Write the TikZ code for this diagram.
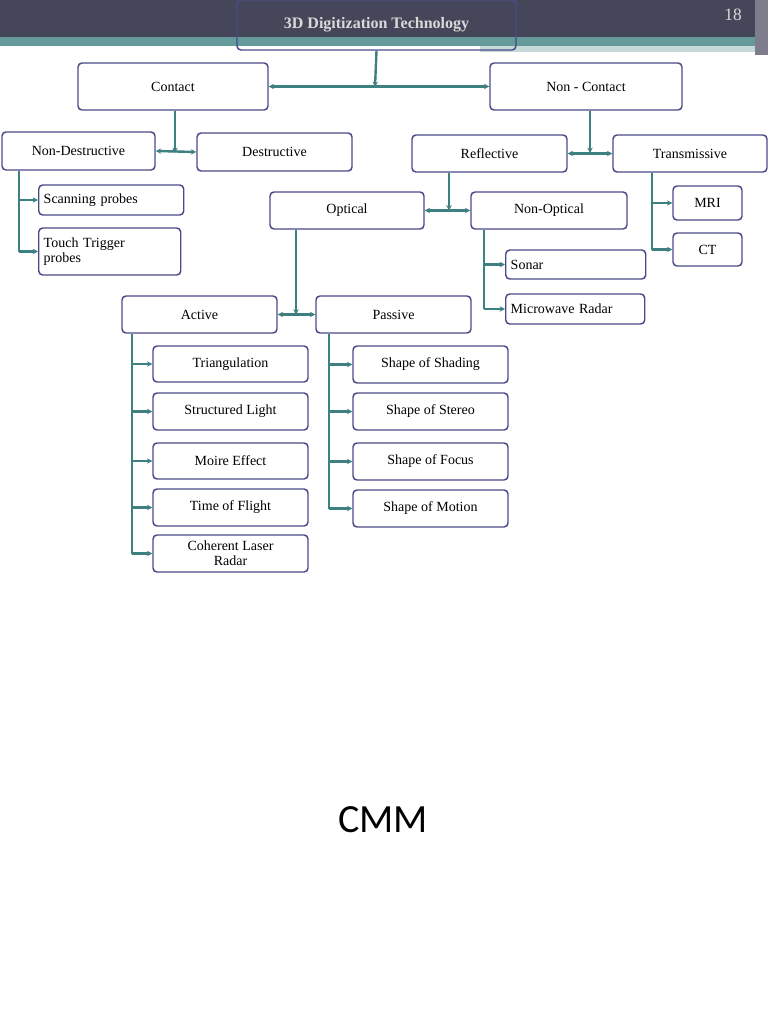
\documentclass[tikz,border=0pt]{standalone}
\usepackage{fontspec}
\setmainfont{Liberation Serif}
\newfontfamily\cmmfont{Carlito}
\usetikzlibrary{arrows.meta}
\definecolor{ln}{HTML}{3E8080}
\definecolor{bd}{HTML}{4A4A88}
\definecolor{hd}{HTML}{46465A}
\newcommand{\bx}[6]{\node[box,minimum width={(#3-#2)*0.75pt},minimum height={(#5-#4)*0.75pt}] (#1) at ({(#2+#3)/2},{(#4+#5)/2}) {#6};}
\begin{document}
\begin{tikzpicture}[x=0.75pt,y=-0.75pt,
 box/.style={draw=bd,line width=1.1pt,rounded corners=3pt,fill=white,inner sep=1pt,font=\fontsize{10.5}{11.5}\selectfont,align=center,text=black},
 cn/.style={draw=ln,line width=1.8pt},
 ar/.style={draw=ln,line width=1.8pt,-{Stealth[length=4pt,width=4pt]}},
 ba/.style={draw=ln,line width=1.8pt,{Stealth[length=4pt,width=4pt]}-{Stealth[length=4pt,width=4pt]}}]
\useasboundingbox (0,0) rectangle (768,1024);
\fill[hd] (0,0) rectangle (768,37);
\fill[ln!80] (0,37) rectangle (768,46);
\fill[ln!30] (310,46) rectangle (768,52);
\fill[white] (310,46) rectangle (480,52);
\fill[hd!70] (755,0) rectangle (768,55);
\node[text=white!85!black,font=\fontsize{13}{13}\selectfont] (num) at (733,15) {18};
\node[box,fill=none,minimum width={279*0.75pt},minimum height={50*0.75pt},font=\fontsize{12}{13}\selectfont\bfseries,text=white!85!black] (t) at (376.5,25) {3D Digitization Technology};
\bx{c}{78}{268}{63}{110}{Contact}
\bx{nc}{490}{682}{63}{110}{Non - Contact}
\bx{nd}{2}{155}{132}{170}{Non-Destructive}
\bx{d}{197}{352}{133}{171}{Destructive}
\bx{r}{412}{567}{135}{172}{Reflective}
\bx{tr}{613}{767}{135}{172}{Transmissive}
\node[box,minimum width={145*0.75pt},minimum height={30*0.75pt},anchor=west,text width={135*0.75pt},align=left] (sp) at (38,200) {Scanning probes};
\node[box,minimum width={142*0.75pt},minimum height={47*0.75pt},anchor=west,text width={132*0.75pt},align=left] (tt) at (38,251.5) {Touch Trigger\\probes};
\bx{o}{270}{424}{192}{229}{Optical}
\bx{no}{471}{627}{192}{229}{Non-Optical}
\bx{mri}{673}{742}{186}{220}{MRI}
\bx{ct}{673}{742}{233}{266}{CT}
\node[box,minimum width={140*0.75pt},minimum height={29*0.75pt},anchor=west,text width={130*0.75pt},align=left] (so) at (505,264.5) {Sonar};
\node[box,minimum width={139*0.75pt},minimum height={30*0.75pt},anchor=west,text width={129*0.75pt},align=left] (mw) at (505,309) {Microwave Radar};
\bx{a}{122}{277}{296}{333}{Active}
\bx{p}{316}{471}{296}{333}{Passive}
\bx{a1}{153}{308}{346}{382}{Triangulation}
\bx{a2}{153}{308}{393}{430}{Structured Light}
\bx{a3}{153}{308}{443}{479}{Moire Effect}
\bx{a4}{153}{308}{489}{526}{Time of Flight}
\bx{a5}{153}{308}{535}{572}{Coherent Laser\\Radar}
\bx{p1}{353}{508}{346}{383}{Shape of Shading}
\bx{p2}{353}{508}{393}{430}{Shape of Stereo}
\bx{p3}{353}{508}{443}{480}{Shape of Focus}
\bx{p4}{353}{508}{490}{527}{Shape of Motion}
\node[font=\cmmfont\fontsize{30}{30}\selectfont] (cmm) at (383,820) {CMM};
% connectors
\draw[ba] (c.east) -- (nc.west);
\draw[ar] (t.south) -- (375,87);
\draw[ba] (nd.east) -- (d.west);
\draw[ar] (c.south -| 175,0) -- (175,153);
\draw[ba] (r.east) -- (tr.west);
\draw[ar] (nc.south -| 590,0) -- (590,153);
\draw[cn] (nd.south -| 19,0) -- (19,251.5);
\draw[ar] (19,200) -- (sp.west);
\draw[ar] (19,251.5) -- (tt.west);
\draw[ba] (o.east) -- (no.west);
\draw[ar] (r.south -| 449,0) -- (449,210.5);
\draw[cn] (tr.south -| 652,0) -- (652,249.5);
\draw[ar] (652,203) -- (mri.west);
\draw[ar] (652,249.5) -- (ct.west);
\draw[cn] (no.south -| 484,0) -- (484,309);
\draw[ar] (484,264.5) -- (so.west);
\draw[ar] (484,309) -- (mw.west);
\draw[ba] (a.east) -- (p.west);
\draw[ar] (o.south -| 296,0) -- (296,314.5);
\draw[cn] (a.south -| 132,0) -- (132,553.5);
\foreach \n in {a1,a2,a3,a4,a5} \draw[ar] (\n.west -| 132,0) -- (\n.west);
\draw[cn] (p.south -| 329,0) -- (329,508.5);
\foreach \n in {p1,p2,p3,p4} \draw[ar] (\n.west -| 329,0) -- (\n.west);
\end{tikzpicture}
\end{document}
